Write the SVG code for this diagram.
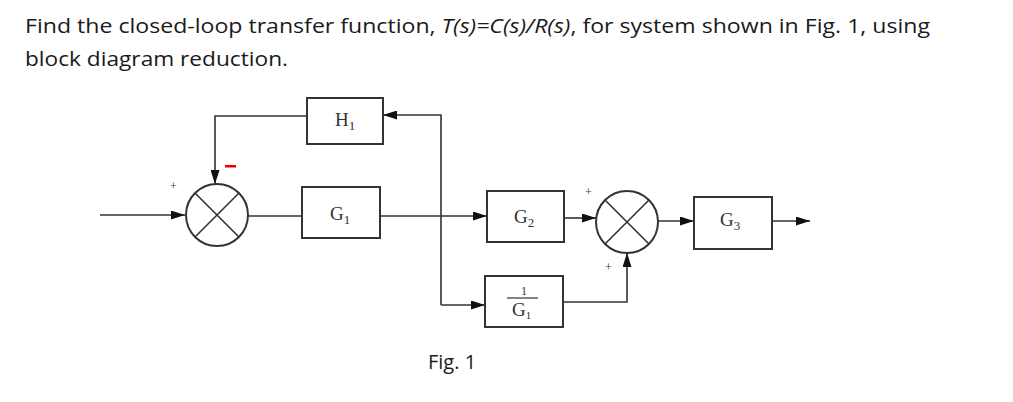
<svg xmlns="http://www.w3.org/2000/svg" width="1013" height="402" viewBox="0 0 1013 402">
<style>
.t{font-family:"Open Sans","Liberation Sans",Arial,sans-serif;font-size:20px;fill:#1a1a1a}
.b{fill:#fff;stroke:#333;stroke-width:2}
.l{fill:none;stroke:#333;stroke-width:1.6}
.g{font-family:"Liberation Serif","Times New Roman",serif;font-size:19px;fill:#333}
.s{font-family:"Liberation Serif",serif;font-size:12px;fill:#333}
</style>
<defs><marker id="a" markerWidth="14" markerHeight="9" refX="14" refY="4.5" orient="auto" markerUnits="userSpaceOnUse"><path d="M0,0L14,4.5L0,9Z" fill="#111"/></marker></defs>
<rect width="1013" height="402" fill="#fff"/>
<text class="t" x="25" y="33" textLength="905" lengthAdjust="spacingAndGlyphs">Find the closed-loop transfer function, <tspan font-style="italic">T(s)=C(s)/R(s)</tspan>, for system shown in Fig. 1, using</text>
<text class="t" x="25" y="66" textLength="263" lengthAdjust="spacingAndGlyphs">block diagram reduction.</text>
<g id="connectors">
<path class="l" d="M100,215H185" marker-end="url(#a)"/>
<path class="l" d="M307,116H215V184" marker-end="url(#a)"/>
<path class="l" d="M248,216H302"/>
<path class="l" d="M380,216H487" marker-end="url(#a)"/>
<path class="l" d="M441,305V115H383" marker-end="url(#a)"/>
<path class="l" d="M441,305H485" marker-end="url(#a)"/>
<path class="l" d="M564,218H596" marker-end="url(#a)"/>
<path class="l" d="M563,302H627V253" marker-end="url(#a)"/>
<path class="l" d="M658,221H694" marker-end="url(#a)"/>
<path class="l" d="M772,221H810" marker-end="url(#a)"/>
</g>
<g id="sum1"><circle class="b" cx="217" cy="215" r="31"/><path class="l" d="M195,193L239,237M239,193L195,237"/>
<text class="s" x="170" y="190">+</text><rect x="225" y="165" width="11" height="2.5" fill="#e00"/></g>
<g id="H1"><rect class="b" x="307" y="98" width="76" height="46"/><text class="g" x="335" y="126">H<tspan font-size="13" dy="4">1</tspan></text></g>
<g id="G1"><rect class="b" x="302" y="187" width="78" height="51"/><text class="g" x="330" y="220">G<tspan font-size="13" dy="4">1</tspan></text></g>
<g id="G2"><rect class="b" x="487" y="191" width="77" height="51"/><text class="g" x="514" y="223">G<tspan font-size="13" dy="4">2</tspan></text></g>
<g id="invG1"><rect class="b" x="485" y="276" width="78" height="51"/><text class="s" x="521" y="295">1</text><path d="M507,298H538" stroke="#333" stroke-width="1.2"/><text class="g" x="512" y="316" font-size="16">G<tspan font-size="11" dy="3">1</tspan></text></g>
<g id="sum2"><circle class="b" cx="627" cy="222" r="31"/><path class="l" d="M605,200L649,244M649,200L605,244"/>
<text class="s" x="585" y="196">+</text><text class="s" x="605" y="271">+</text></g>
<g id="G3"><rect class="b" x="694" y="197" width="78" height="52"/><text class="g" x="720" y="226">G<tspan font-size="13" dy="4">3</tspan></text></g>
<text class="t" x="428" y="369" font-size="18">Fig. 1</text>
</svg>
